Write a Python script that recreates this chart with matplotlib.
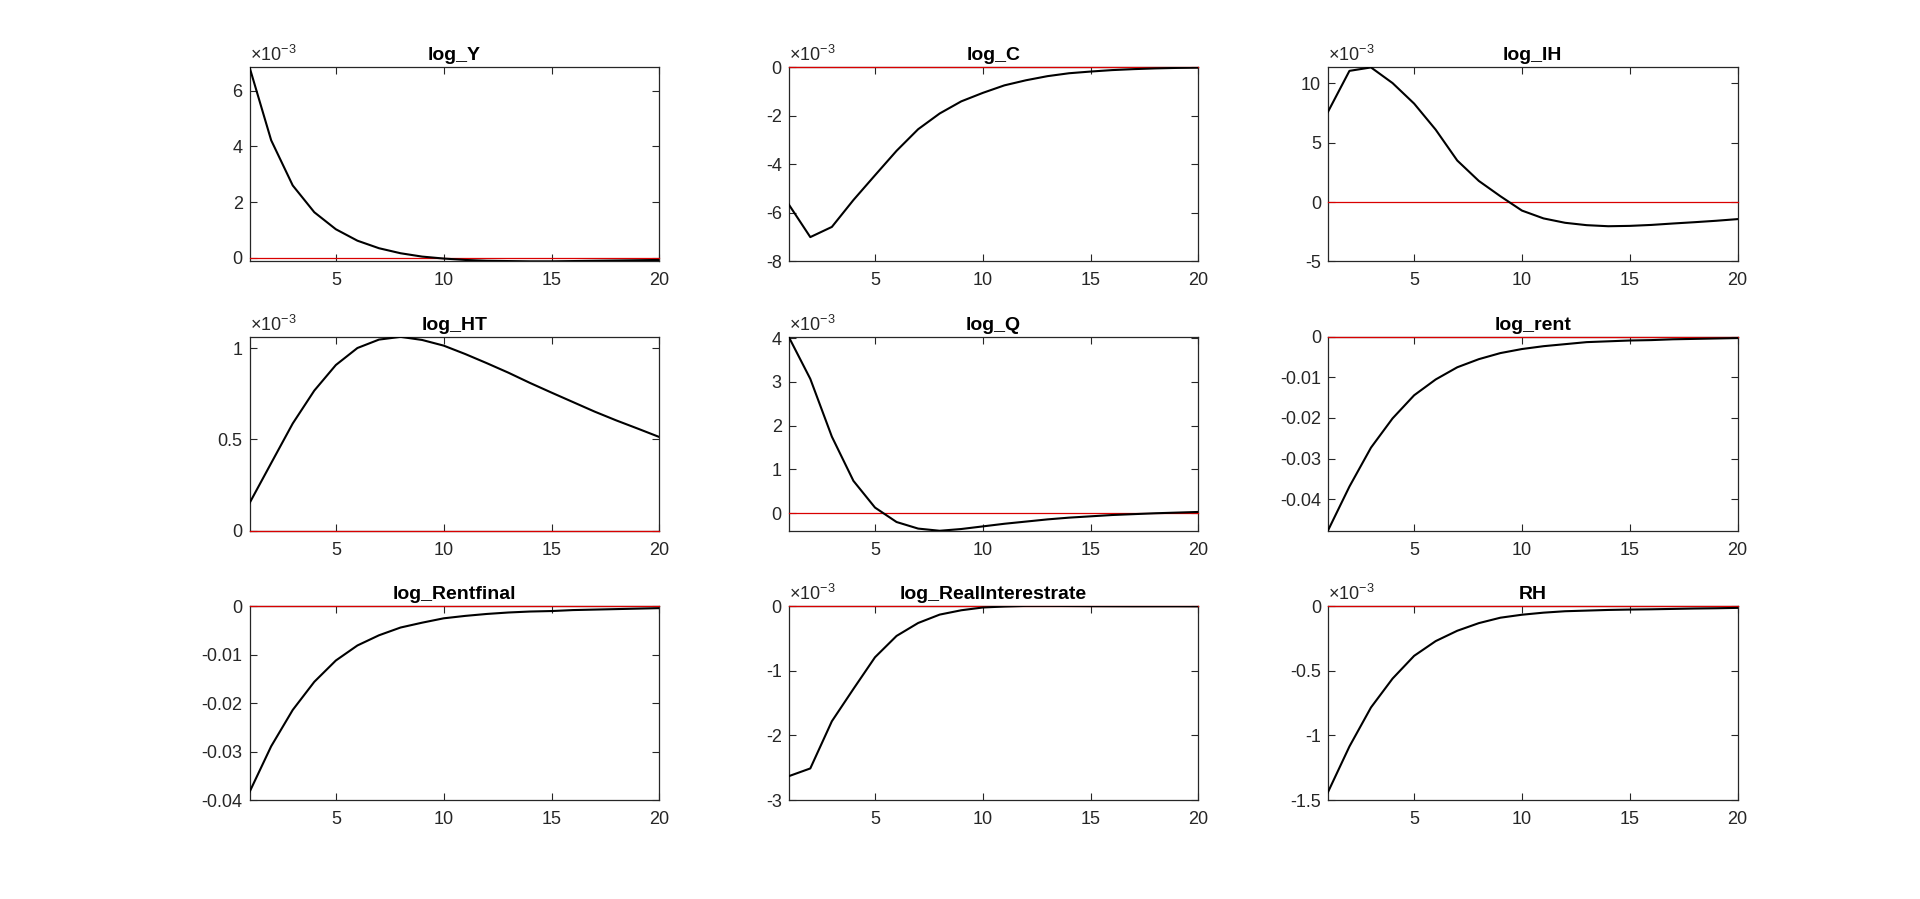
import matplotlib
matplotlib.use("Agg")
import matplotlib.pyplot as plt
import numpy as np
from matplotlib.ticker import FuncFormatter, FixedLocator

# ---------------- data ----------------
periods = list(range(1, 21))

titles = ["log_Y", "log_C", "log_IH",
          "log_HT", "log_Q", "log_rent",
          "log_Rentfinal", "log_RealInterestrate", "RH"]

log_Y = [6.83e-3, 4.22e-3, 2.60e-3, 1.64e-3, 1.03e-3, 0.62e-3, 0.35e-3, 0.17e-3, 0.05e-3, -0.02e-3,
         -0.07e-3, -0.10e-3, -0.11e-3, -0.12e-3, -0.12e-3, -0.11e-3, -0.10e-3, -0.09e-3, -0.08e-3, -0.07e-3]
log_C = [-5.65e-3, -7.00e-3, -6.58e-3, -5.47e-3, -4.45e-3, -3.44e-3, -2.55e-3, -1.90e-3, -1.40e-3, -1.05e-3,
         -0.74e-3, -0.53e-3, -0.36e-3, -0.24e-3, -0.17e-3, -0.11e-3, -0.07e-3, -0.04e-3, -0.02e-3, -0.01e-3]
log_IH = [7.59e-3, 11.06e-3, 11.35e-3, 10.03e-3, 8.30e-3, 6.10e-3, 3.50e-3, 1.78e-3, 0.49e-3, -0.72e-3,
          -1.38e-3, -1.75e-3, -1.95e-3, -2.04e-3, -2.01e-3, -1.93e-3, -1.81e-3, -1.70e-3, -1.58e-3, -1.44e-3]
log_HT = [0.152e-3, 0.370e-3, 0.587e-3, 0.767e-3, 0.907e-3, 1.000e-3, 1.046e-3, 1.061e-3, 1.044e-3, 1.013e-3,
          0.967e-3, 0.917e-3, 0.865e-3, 0.809e-3, 0.756e-3, 0.704e-3, 0.652e-3, 0.604e-3, 0.559e-3, 0.513e-3]
log_Q = [4.03e-3, 3.07e-3, 1.75e-3, 0.74e-3, 0.13e-3, -0.20e-3, -0.35e-3, -0.40e-3, -0.36e-3, -0.30e-3,
         -0.24e-3, -0.19e-3, -0.14e-3, -0.10e-3, -0.07e-3, -0.04e-3, -0.02e-3, 0.00e-3, 0.015e-3, 0.03e-3]
log_rent = [-0.0478, -0.0369, -0.0273, -0.0201, -0.0144, -0.0105, -0.0075, -0.0055, -0.0040, -0.0030,
            -0.0023, -0.0018, -0.0013, -0.0011, -0.0009, -0.0008, -0.0006, -0.0005, -0.0004, -0.0003]
log_Rentfinal = [-0.0383, -0.0289, -0.0214, -0.0156, -0.0112, -0.0081, -0.0060, -0.0044, -0.0034, -0.0025,
                 -0.0020, -0.0016, -0.0013, -0.0011, -0.0010, -0.0008, -0.0007, -0.0006, -0.0005, -0.0004]
log_RealInterestrate = [-2.63e-3, -2.51e-3, -1.78e-3, -1.28e-3, -0.79e-3, -0.46e-3, -0.26e-3, -0.13e-3, -0.063e-3, -0.02e-3,
                        -0.005e-3, 0.005e-3, 0.005e-3, 0.003e-3, 0.001e-3, 0.0, -0.001e-3, -0.001e-3, -0.001e-3, -0.002e-3]
RH = [-1.44e-3, -1.085e-3, -0.783e-3, -0.56e-3, -0.384e-3, -0.27e-3, -0.19e-3, -0.131e-3, -0.089e-3, -0.066e-3,
      -0.050e-3, -0.039e-3, -0.034e-3, -0.029e-3, -0.026e-3, -0.024e-3, -0.021e-3, -0.018e-3, -0.016e-3, -0.013e-3]

series = [log_Y, log_C, log_IH, log_HT, log_Q, log_rent, log_Rentfinal, log_RealInterestrate, RH]

# axis settings (limits, ticks, exponent scaling)
ylims = [(-0.12e-3, 6.83e-3), (-8e-3, 0), (-5e-3, 11.35e-3),
         (0, 1.061e-3), (-0.40e-3, 4.03e-3), (-0.0478, 0),
         (-0.04, 0), (-3e-3, 0), (-1.5e-3, 0)]
yticks = [[0, 2e-3, 4e-3, 6e-3], [-8e-3, -6e-3, -4e-3, -2e-3, 0], [-5e-3, 0, 5e-3, 10e-3],
          [0, 0.5e-3, 1e-3], [0, 1e-3, 2e-3, 3e-3, 4e-3], [-0.04, -0.03, -0.02, -0.01, 0],
          [-0.04, -0.03, -0.02, -0.01, 0], [-3e-3, -2e-3, -1e-3, 0], [-1.5e-3, -1e-3, -0.5e-3, 0]]
exponents = [-3, -3, -3, -3, -3, 0, 0, -3, -3]
xticks = [5, 10, 15, 20]

# ---------------- style ----------------
plt.rcParams['font.family'] = ['Liberation Sans', 'DejaVu Sans']
plt.rcParams['mathtext.fontset'] = 'custom'
plt.rcParams['mathtext.rm'] = 'Liberation Sans'
plt.rcParams['mathtext.it'] = 'Liberation Sans:italic'
plt.rcParams['mathtext.bf'] = 'Liberation Sans:bold'

axcol = (0.15, 0.15, 0.15)
fig = plt.figure(figsize=(19.2, 8.99), dpi=100)
fig.patch.set_facecolor('white')

lefts = [0.13, 0.4108, 0.6916]
bottoms = [0.7093, 0.4096, 0.11]
w, h = 0.2134, 0.2157
FS = 13


def make_fmt(exp):
    scale = 10.0 ** exp

    def f(v, pos):
        s = "%g" % (round(v / scale, 6))
        if s == "-0":
            s = "0"
        return s
    return FuncFormatter(f)


for i, (title, y) in enumerate(zip(titles, series)):
    r, c = divmod(i, 3)
    ax = fig.add_axes([lefts[c], bottoms[r], w, h])
    ax.plot([1, periods[-1]], [0, 0], '-', color=(0.85, 0, 0), lw=0.9, zorder=3,
            clip_on=False)
    ax.plot(periods, y, '-', color='k', lw=1.5, zorder=4)
    ax.set_xlim(1, periods[-1])
    ax.set_ylim(*ylims[i])
    ax.xaxis.set_major_locator(FixedLocator(xticks))
    ax.yaxis.set_major_locator(FixedLocator(yticks[i]))
    ax.yaxis.set_major_formatter(make_fmt(exponents[i]))
    ax.tick_params(direction='in', length=5, width=0.8, colors=axcol, labelsize=FS,
                   top=True, right=True)
    ax.tick_params(axis='x', pad=8)
    ax.tick_params(axis='y', pad=5)
    for sp in ax.spines.values():
        sp.set_color(axcol)
        sp.set_linewidth(0.9)
    ax.set_title(title, fontsize=14, fontweight='bold', color='k', pad=5)
    if exponents[i] != 0:
        ax.text(0.0, 1.012, r'$\times\mathregular{10^{%d}}$' % exponents[i], transform=ax.transAxes,
                ha='left', va='bottom', fontsize=FS, color=axcol)

fig.savefig('out.png', dpi=100, facecolor='white')
